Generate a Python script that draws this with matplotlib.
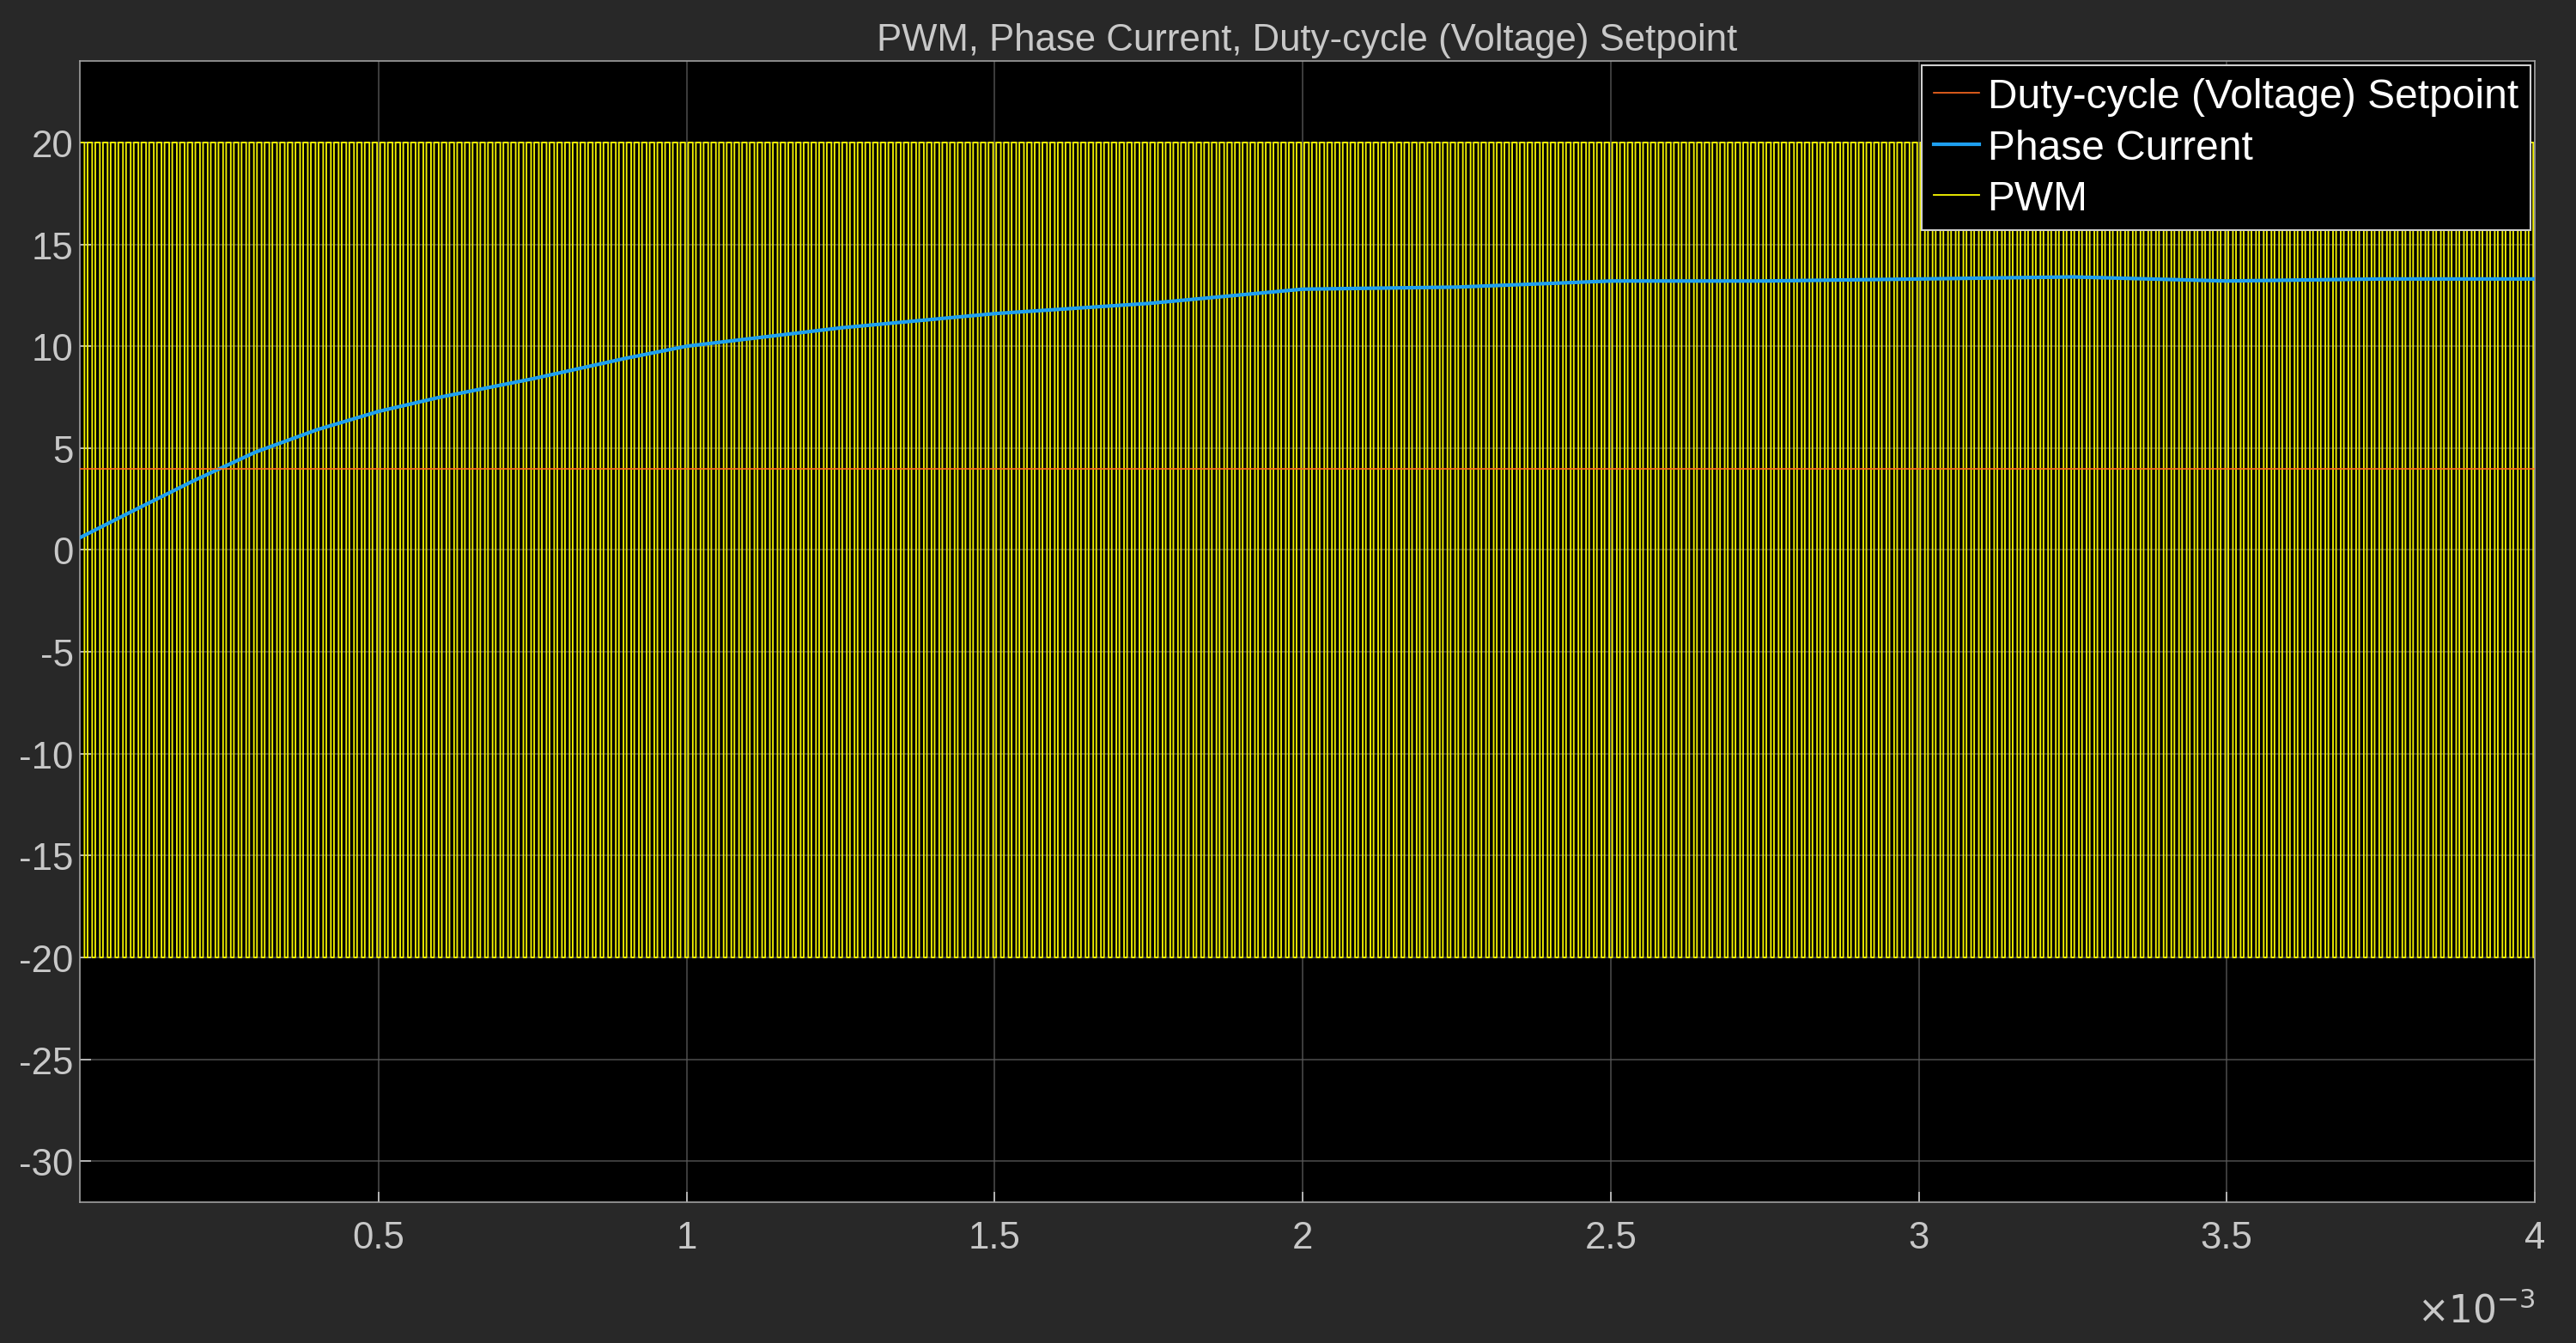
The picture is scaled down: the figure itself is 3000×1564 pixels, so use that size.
import numpy as np
import matplotlib
matplotlib.use("Agg")
import matplotlib.pyplot as plt

plt.rcParams['font.family'] = ['Liberation Sans', 'DejaVu Sans']
plt.rcParams['axes.unicode_minus'] = False

# PWM parameters
pwm_freq = 80e3          # Hz
pwm_high = 20.0
pwm_low = -20.0
setpoint = 4.0           # duty-cycle (voltage) setpoint
t_start = 0.015e-3
t_end = 4.0e-3

# phase current, read at a few instants (s, A)
cur_t = [0.015e-3, 0.1e-3, 0.2e-3, 0.3e-3, 0.4e-3, 0.5e-3, 0.6e-3, 0.75e-3, 0.9e-3,
         1.0e-3, 1.25e-3, 1.5e-3, 1.75e-3, 2.0e-3, 2.25e-3, 2.5e-3, 2.75e-3,
         3.0e-3, 3.25e-3, 3.5e-3, 3.75e-3, 4.0e-3]
cur_v = [0.6, 1.9, 3.4, 4.8, 5.9, 6.8, 7.5, 8.4, 9.4,
         10.0, 10.9, 11.6, 12.1, 12.8, 12.9, 13.2, 13.2,
         13.3, 13.4, 13.2, 13.3, 13.3]

# square wave built from the PWM settings
duty = (setpoint - pwm_low) / (pwm_high - pwm_low)
period = 1.0 / pwm_freq
n = int(np.ceil((t_end - t_start) / period)) + 1
edges_t = []
edges_v = []
for k in range(n):
  t0 = t_start + k * period
  t1 = t0 + duty * period
  t2 = t0 + period
  edges_t += [t0, t1, t1, t2]
  edges_v += [pwm_high, pwm_high, pwm_low, pwm_low]

bg = '#282828'
txt = '#c8c8c8'
fig = plt.figure(figsize=(20, 10.4333), dpi=150, facecolor=bg)
ax = fig.add_axes([0.031, 0.105, 0.953, 0.849], facecolor='black')

ax.plot(np.array(edges_t) * 1e3, edges_v, color='#f0f000', lw=0.9, label='PWM', zorder=2)
ax.plot(np.array(cur_t) * 1e3, cur_v, color='#1ea0f0', lw=2.0, label='Phase Current', zorder=3)
ax.axhline(setpoint, color='#ff6a20', lw=0.8, label='Duty-cycle (Voltage) Setpoint', zorder=4)

ax.set_xlim(t_start * 1e3, t_end * 1e3)
ax.set_ylim(-32, 24)
ax.set_xticks([0.5, 1, 1.5, 2, 2.5, 3, 3.5, 4])
ax.set_xticklabels(['0.5', '1', '1.5', '2', '2.5', '3', '3.5', '4'])
ax.set_yticks(range(-30, 21, 5))
ax.tick_params(colors=txt, labelsize=21, direction='in', length=6)
ax.tick_params(axis='x', pad=10)
ax.grid(True, color='#5a5a5a', lw=0.8, alpha=0.8)
for s in ax.spines.values():
  s.set_color('#a0a0a0')
ax.set_title('PWM, Phase Current, Duty-cycle (Voltage) Setpoint', color=txt, fontsize=21, pad=6)
fig.text(0.984, 0.01, r'$\times10^{-3}$', color=txt, fontsize=21, ha='right', va='bottom')

h, l = ax.get_legend_handles_labels()
leg = ax.legend(h[::-1], l[::-1], loc='upper right', fontsize=23, facecolor='black',
                edgecolor='#d0d0d0', framealpha=1, fancybox=False, borderaxespad=0.1,
                handlelength=1.1, handletextpad=0.2, labelspacing=0.3, borderpad=0.3)
for t in leg.get_texts():
  t.set_color('white')

plt.savefig('out.png', facecolor=bg)
